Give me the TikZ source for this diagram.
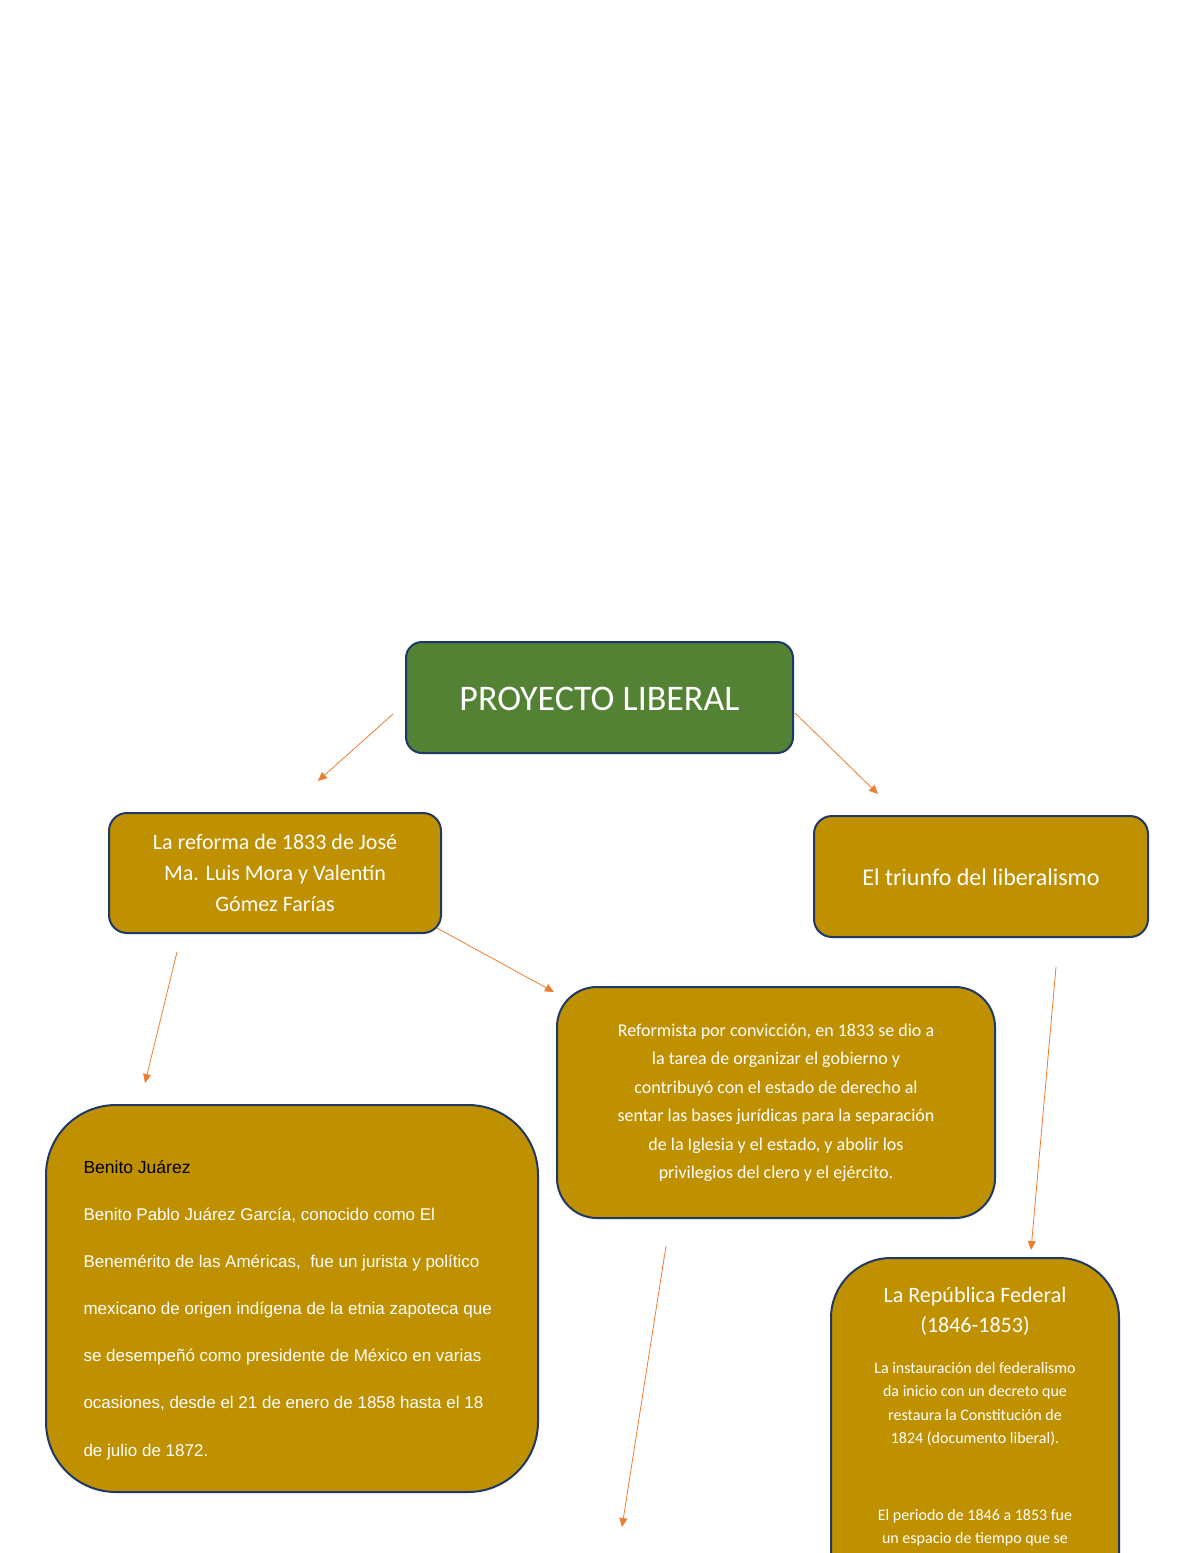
\documentclass[tikz,border=0pt]{standalone}
\usepackage{fontspec}
\setmainfont{Carlito}
\newfontfamily\arialf{Liberation Sans}
\usetikzlibrary{arrows.meta}
\definecolor{gold}{HTML}{BF9000}
\definecolor{grn}{HTML}{548235}
\definecolor{navy}{HTML}{1F3864}
\definecolor{orng}{HTML}{ED7D31}
\tikzset{
 box/.style={draw=navy,line width=2pt,fill=gold,text=white,align=center,inner sep=0pt},
 arr/.style={draw=orng,line width=0.8pt,-{Triangle[length=9pt,width=8pt]}}
}
\begin{document}
\begin{tikzpicture}[x=1pt,y=-1pt]
\useasboundingbox (0,0) rectangle (1200,1553);
\clip (0,0) rectangle (1200,1553);
\fill[white] (0,0) rectangle (1200,1553);
\draw[box,fill=grn,rounded corners=16pt] (406,642) rectangle (793,753);
\node[text=white,font=\fontsize{36}{40}\selectfont] (t) at (599.5,699) {PROYECTO LIBERAL};
\draw[box,rounded corners=18pt] (109,813) rectangle (441,933);
\node[text=white,align=center,font=\fontsize{22}{31}\selectfont] (r) at (275,873) {La reforma de 1833 de José\\Ma. Luis Mora y Valentín\\Gómez Farías};
\draw[box,rounded corners=18pt] (814,816) rectangle (1148,937);
\node[text=white,font=\fontsize{24}{28}\selectfont] (tr) at (981,877) {El triunfo del liberalismo};
\draw[box,rounded corners=40pt] (557,987) rectangle (995,1218);
\node[text=white,align=center,font=\fontsize{18}{28.5}\selectfont] (rf) at (776,1103) {Reformista por convicción, en 1833 se dio a\\la tarea de organizar el gobierno y\\contribuyó con el estado de derecho al\\sentar las bases jurídicas para la separación\\de la Iglesia y el estado, y abolir los\\privilegios del clero y el ejército.};
\draw[box,rounded corners=70pt] (46,1105) rectangle (538,1492);
\node[anchor=north west,align=left,text=black,font=\arialf\fontsize{17.5}{20}\selectfont] (bj) at (80,1157) {Benito Juárez};
\node[anchor=north west,align=left,text=white,font=\arialf\fontsize{17}{47.2}\selectfont] (bt) at (80,1204) {Benito Pablo Juárez García, conocido como El\\Benemérito de las Américas,\ \ fue un jurista y político\\mexicano de origen indígena de la etnia zapoteca que\\se desempeñó como presidente de México en varias\\ocasiones, desde el 21 de enero de 1858 hasta el 18\\de julio de 1872.};
\draw[box,rounded corners=60pt] (831,1258) rectangle (1119,1620);
\node[text=white,align=center,font=\fontsize{22}{30}\selectfont] (rp) at (975,1311) {La República Federal\\(1846-1853)};
\node[text=white,align=center,font=\fontsize{16}{23.3}\selectfont] (rp1) at (975,1404) {La instauración del federalismo\\da inicio con un decreto que\\restaura la Constitución de\\1824 (documento liberal).};
\node[text=white,align=center,font=\fontsize{16}{23.3}\selectfont] (rp2) at (975,1528) {El periodo de 1846 a 1853 fue\\un espacio de tiempo que se};
\coordinate (a1) at (393,714); \coordinate (b1) at (318,781);
\coordinate (a2) at (795,713); \coordinate (b2) at (878,794);
\coordinate (a3) at (437,928); \coordinate (b3) at (554,992);
\coordinate (a4) at (177,952); \coordinate (b4) at (145,1083);
\coordinate (a5) at (1056,967); \coordinate (b5) at (1031,1250);
\coordinate (a6) at (666,1246); \coordinate (b6) at (622,1527);
\foreach \i in {1,...,6} \draw[arr] (a\i) -- (b\i);
\end{tikzpicture}
\end{document}
